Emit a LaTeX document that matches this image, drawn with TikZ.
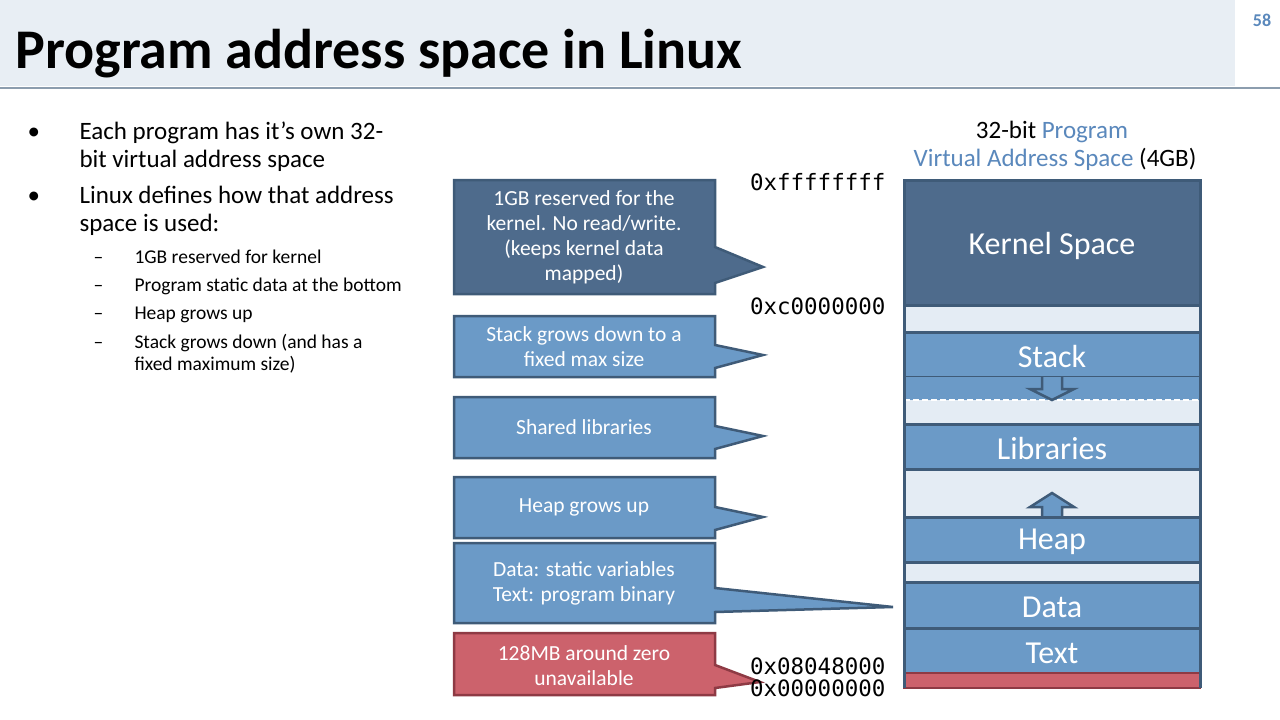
\documentclass[tikz,border=0pt]{standalone}
\usepackage{fontspec}
\setmainfont{Carlito}
\newfontfamily\monof{DejaVu Sans Mono}
\begin{document}
\definecolor{dk}{HTML}{4E6B8C}
\definecolor{md}{HTML}{6B9AC7}
\definecolor{bd}{HTML}{3F5B78}
\definecolor{lt}{HTML}{E4ECF4}
\definecolor{rd}{HTML}{CC626C}
\definecolor{rb}{HTML}{8E3A44}
\definecolor{tb}{HTML}{E8EEF4}
\definecolor{bl}{HTML}{5A88BC}
\begin{tikzpicture}[x=1pt,y=-1pt,
  ctext/.style={text=white,align=center,font=\fontsize{21.5}{25}\selectfont},
  btext/.style={anchor=base west,font=\fontsize{25}{28}\selectfont},
  stext/.style={anchor=base west,font=\fontsize{19.5}{22}\selectfont},
  addr/.style={anchor=base east,font=\monof\fontsize{22.5}{22}\selectfont},
  seg/.style={draw=bd,line width=3pt},
  segtext/.style={text=white,font=\fontsize{32}{34}\selectfont}]
\useasboundingbox (0,0) rectangle (1280,720);
\fill[white] (0,0) rectangle (1280,720);
% title band
\fill[tb] (0,0) rectangle (1235,86);
\draw[bd!60,line width=1.5pt] (0,88) -- (1280,88);
\node[anchor=base west,font=\bfseries\fontsize{56}{60}\selectfont] (title) at (12,68) {Program address space in Linux};
\node[anchor=base,text=bl,font=\bfseries\fontsize{18}{20}\selectfont] (pg) at (1262,27) {58};
% bullets
\node[btext] (b1) at (24,139) {•};
\node[btext] (t1) at (76,139) {Each program has it’s own 32-};
\node[btext] (t1b) at (76,167) {bit virtual address space};
\node[btext] (b2) at (24,203) {•};
\node[btext] (t2) at (76,203) {Linux defines how that address};
\node[btext] (t2b) at (76,231) {space is used:};
\foreach \y/\t in {263/1GB reserved for kernel,291/Program static data at the bottom,319/Heap grows up,348/Stack grows down (and has a}
  {\node[stext] at (90,\y) {–}; \node[stext] at (131,\y) {\t};}
\node[stext] (s5) at (131,370) {fixed maximum size)};
% callouts
\newcommand\callout[8]{%
  \draw[bd,line width=2.5pt,fill=#7] (454,#1) -- (715,#1) -- (715,#5) -- (#3,#4) -- (715,#6) -- (715,#2) -- (454,#2) -- cycle;
  \node[ctext] at (584,{(#1+#2)/2}) {#8};}
\callout{180}{294}{763}{267}{247}{283}{dk}{1GB reserved for the\\kernel. No read/write.\\(keeps kernel data\\mapped)}
\callout{316}{377}{763}{355}{345}{368}{md}{Stack grows down to a\\fixed max size}
\callout{397}{458}{763}{436}{426}{449}{md}{Shared libraries}
\callout{477}{538}{763}{517}{507}{530}{md}{Heap grows up}
\callout{543}{623}{893}{607}{588}{612}{md}{Data: static variables\\Text: program binary}
\draw[rb,line width=2.5pt,fill=rd] (454,633) -- (715,633) -- (715,665) -- (760,682) -- (715,688) -- (715,695) -- (454,695) -- cycle;
\node[ctext] (c6) at (584,666) {128MB around zero\\unavailable};
% addresses
\node[addr] (a1) at (889,190) {0xffffffff};
\node[addr] (a2) at (889,314) {0xc0000000};
\node[addr] (a3) at (889,674) {0x08048000};
\node[addr] (a4) at (889,696) {0x00000000};
% header
\node[anchor=base,font=\fontsize{25}{28}\selectfont] (h1) at (1052,138) {32-bit \textcolor{bl}{Program}};
\node[anchor=base,font=\fontsize{25}{28}\selectfont] (h2) at (1055,166) {\textcolor{bl}{Virtual Address Space} (4GB)};
% memory column
\fill[lt] (904,180) rectangle (1200,688);
\draw[seg,fill=dk] (904,180) rectangle (1200,305);
\node[segtext] at (1052,246) {Kernel Space};
\draw[seg,fill=md] (904,332) rectangle (1200,377);
\node[segtext] at (1052,357) {Stack};
\fill[md] (904,377) rectangle (1200,400);
\draw[white,line width=1.5pt,dash pattern=on 6pt off 3pt] (904,400) -- (1200,400);
\draw[bd,line width=2.5pt,fill=md] (1042,377) -- (1042,389) -- (1030,389) -- (1052,400) -- (1074,389) -- (1062,389) -- (1062,377);
\draw[seg,fill=md] (904,424) rectangle (1200,469);
\node[segtext] at (1052,449) {Libraries};
\draw[bd,line width=2.5pt,fill=md] (1042,517) -- (1042,507) -- (1030,507) -- (1052,493) -- (1074,507) -- (1062,507) -- (1062,517);
\draw[seg,fill=md] (904,517) rectangle (1200,562);
\node[segtext] at (1052,542) {Heap};
\draw[seg,fill=md] (904,582) rectangle (1200,628);
\node[segtext] at (1052,607) {Data};
\draw[seg,fill=md] (904,628) rectangle (1200,673);
\node[segtext] at (1052,653) {Text};
\draw[draw=rb,line width=2pt,fill=rd] (904,673) rectangle (1200,688);
\draw[bd,line width=3pt] (904,305) -- (904,688) (1200,305) -- (1200,688);
\end{tikzpicture}
\end{document}
